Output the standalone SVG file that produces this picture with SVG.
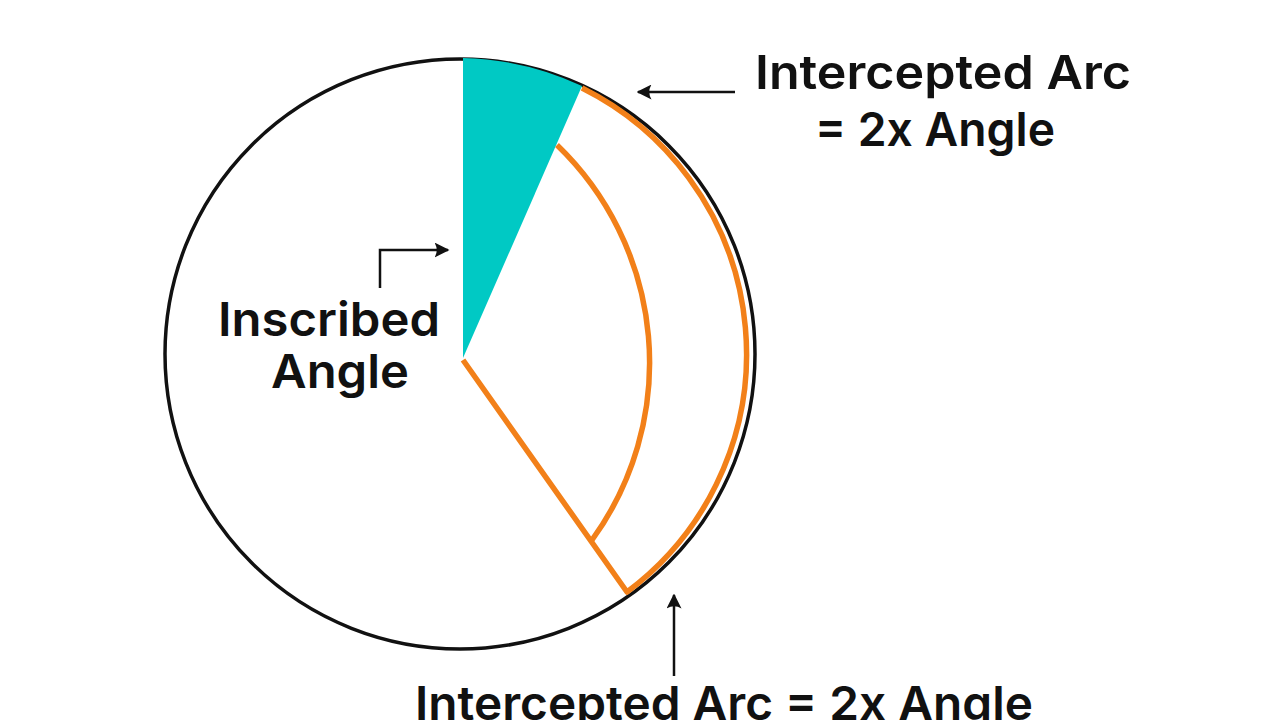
<svg xmlns="http://www.w3.org/2000/svg" width="1280" height="720" viewBox="0 0 1280 720">
<defs>
<style>
.t{font-family:Inter,"Liberation Sans",sans-serif;font-weight:600;font-size:47px;fill:#111}
.c{fill:none;stroke:#111;stroke-width:2.5}
.o{fill:none;stroke:#f28019;stroke-width:5.5;stroke-linejoin:round}
</style>
<marker id="ah" viewBox="0 0 10 10" refX="9" refY="5" markerWidth="6" markerHeight="6" orient="auto"><path d="M0,0 L10,5 L0,10 Q3,5 0,0z" fill="#111"/></marker>
</defs>
<rect width="1280" height="720" fill="#fff"/>
<g id="circle">
<circle cx="460" cy="354" r="295" fill="none" stroke="#111" stroke-width="3.5"/>
</g>
<g id="inscribed-angle">
<path d="M463,358 L463,58 A296,296 0 0 1 582,86 Z" fill="#00c9c4"/>
</g>
<g id="intercepted-arc">
<path class="o" d="M463,360 L627,592 A297,297 0 0 0 582,88"/>
<path class="o" d="M557,145 A302,302 0 0 1 592,540"/>
</g>
<g id="connectors">
<path class="c" d="M735,92 L638,92" marker-end="url(#ah)"/>
<path class="c" d="M380,288 L380,250 L448,250" marker-end="url(#ah)"/>
<path class="c" d="M674,676 L674,595" marker-end="url(#ah)"/>
</g>
<g id="labels">
<text class="t" x="943" y="89" text-anchor="middle" textLength="376" lengthAdjust="spacingAndGlyphs">Intercepted Arc</text>
<text class="t" x="935" y="146" text-anchor="middle" textLength="240" lengthAdjust="spacingAndGlyphs">= 2x Angle</text>
<text class="t" x="329" y="336" text-anchor="middle" textLength="222" lengthAdjust="spacingAndGlyphs">Inscribed</text>
<text class="t" x="340" y="388" text-anchor="middle" textLength="138" lengthAdjust="spacingAndGlyphs">Angle</text>
<text class="t" x="724" y="720" text-anchor="middle" textLength="618" lengthAdjust="spacingAndGlyphs">Intercepted Arc = 2x Angle</text>
</g>
</svg>
